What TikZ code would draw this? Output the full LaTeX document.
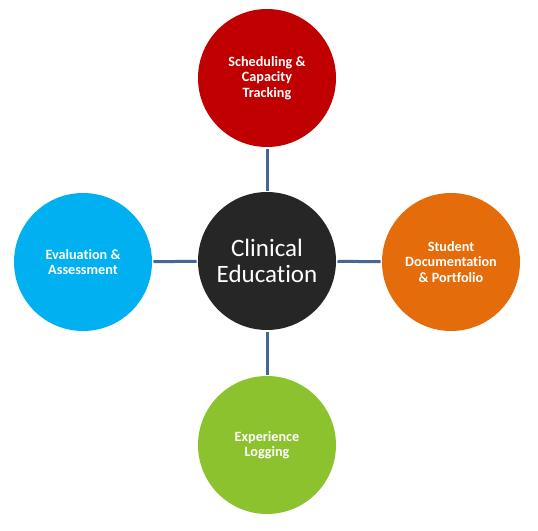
\documentclass[tikz,border=0pt]{standalone}
\usepackage{fontspec}
\setmainfont{Carlito}[Ligatures=NoCommon]
\definecolor{cred}{HTML}{C00000}
\definecolor{cdark}{HTML}{262626}
\definecolor{cblue}{HTML}{00B0F0}
\definecolor{corange}{HTML}{E46C0A}
\definecolor{cgreen}{HTML}{8BC22E}
\definecolor{cline}{HTML}{446896}
\begin{document}
\begin{tikzpicture}[x=1pt,y=-1pt,
  bubble/.style={circle,minimum size=138pt,inner sep=0pt,outer sep=1.5pt,text=white,align=center,
    font=\bfseries\fontsize{14.2}{15.5}\selectfont},
  hub/.style={bubble,font=\fontsize{25}{25.5}\selectfont},
  conn/.style={draw=cline,line width=3pt}]
\useasboundingbox (0,0) rectangle (538,530);
\node[hub,fill=cdark] (c) at (267,261) {Clinical\\Education};
\node[bubble,fill=cred] (t) at (267,78) {Scheduling \&\\Capacity\\Tracking};
\node[bubble,fill=cblue] (l) at (83,262) {Evaluation \&\\Assessment};
\node[bubble,fill=corange] (r) at (451,262) {Student\\Documentation\\\& Portfolio};
\node[bubble,fill=cgreen] (b) at (267,445) {Experience\\Logging};
\draw[conn] (t) -- (c);
\draw[conn] (l) -- (c);
\draw[conn] (c) -- (r);
\draw[conn] (c) -- (b);
\end{tikzpicture}
\end{document}
